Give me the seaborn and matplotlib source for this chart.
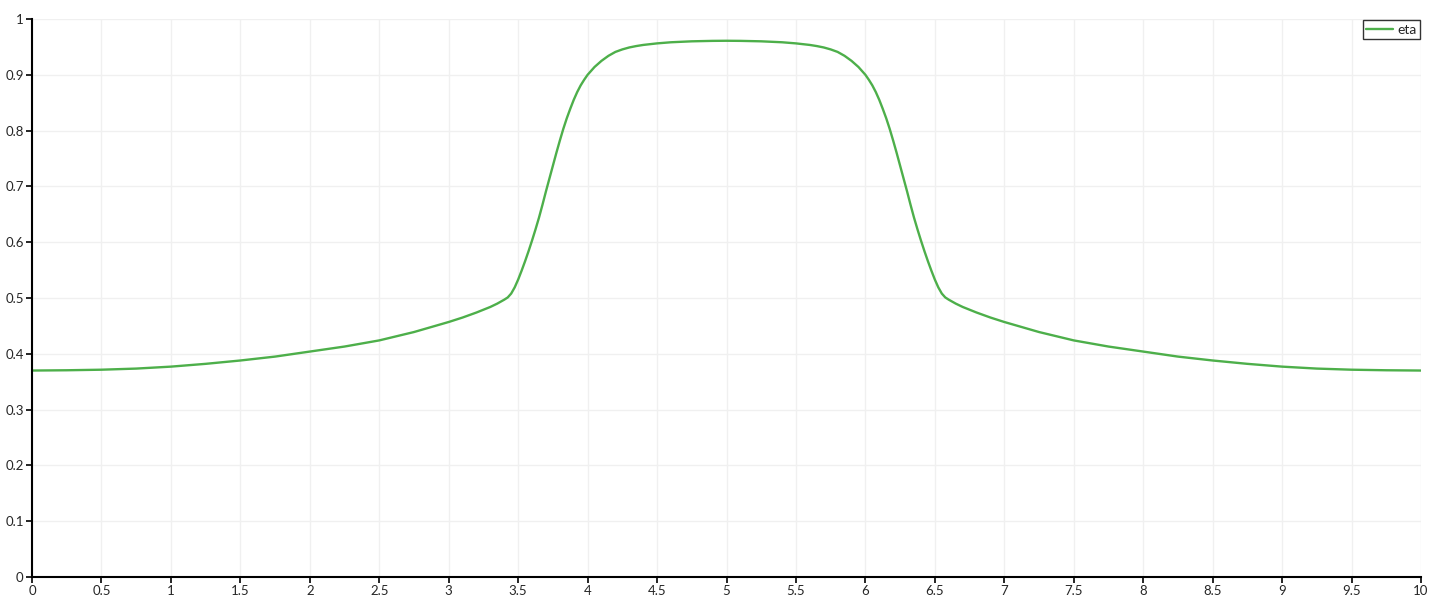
import matplotlib
matplotlib.use("Agg")
import matplotlib.pyplot as plt
import pandas as pd
import seaborn as sns

# values (left half, plateau, right half)
x_values = [
    0.0, 0.25, 0.5, 0.75, 1.0, 1.25, 1.5, 1.75, 2.0, 2.25, 2.5, 2.75,
    3.0, 3.1, 3.2, 3.3, 3.35, 3.4, 3.425, 3.45, 3.475, 3.5, 3.525, 3.55,
    3.575, 3.6, 3.625, 3.65, 3.675, 3.7, 3.725, 3.75, 3.775, 3.8, 3.825, 3.85,
    3.875, 3.9, 3.925, 3.95, 3.975, 4.0, 4.05, 4.1, 4.15, 4.2, 4.25, 4.3,
    4.35, 4.4, 4.5, 4.6, 4.75, 4.9, 5.0,
    5.1, 5.25, 5.4, 5.5, 5.6, 5.65, 5.7, 5.75, 5.8, 5.85, 5.9, 5.95, 6.0, 6.025,
    6.05, 6.075, 6.1, 6.125, 6.15, 6.175, 6.2, 6.225, 6.25, 6.275, 6.3, 6.325,
    6.35, 6.375, 6.4, 6.425, 6.45, 6.475, 6.5, 6.525, 6.55, 6.575, 6.6, 6.65,
    6.7, 6.8, 6.9, 7.0, 7.25, 7.5, 7.75, 8.0, 8.25, 8.5, 8.75, 9.0,
    9.25, 9.5, 9.75, 10.0,
]
eta_values = [
    0.370, 0.3705, 0.3715, 0.3735, 0.377, 0.382, 0.388, 0.395, 0.404, 0.413, 0.424, 0.439,
    0.457, 0.465, 0.474, 0.484, 0.490, 0.497, 0.501, 0.508, 0.519, 0.533, 0.549, 0.566,
    0.584, 0.603, 0.623, 0.644, 0.667, 0.691, 0.714, 0.737, 0.760, 0.782, 0.803, 0.822,
    0.839, 0.855, 0.869, 0.881, 0.891, 0.900, 0.914, 0.925, 0.934, 0.941, 0.9455, 0.949,
    0.9515, 0.9535, 0.9563, 0.9583, 0.960, 0.9608, 0.961,
    0.9608, 0.960, 0.9583, 0.9563, 0.9535, 0.9515, 0.949, 0.9455, 0.941, 0.934, 0.925, 0.914,
    0.900, 0.891,
    0.881, 0.869, 0.855, 0.839, 0.822, 0.803, 0.782, 0.760, 0.737, 0.714, 0.691, 0.667,
    0.644, 0.623, 0.603, 0.584, 0.566, 0.549, 0.533, 0.519, 0.508, 0.501, 0.497, 0.490,
    0.484, 0.474, 0.465, 0.457, 0.439, 0.424, 0.413, 0.404, 0.395, 0.388, 0.382, 0.377,
    0.3735, 0.3715, 0.3705, 0.370,
]
x_ticks = [0, 0.5, 1, 1.5, 2, 2.5, 3, 3.5, 4, 4.5, 5, 5.5, 6, 6.5, 7, 7.5, 8, 8.5, 9, 9.5, 10]
y_ticks = [0, 0.1, 0.2, 0.3, 0.4, 0.5, 0.6, 0.7, 0.8, 0.9, 1]

df = pd.DataFrame({"x": x_values, "eta": eta_values})

sns.set_style("white")
plt.rcParams["font.family"] = ["Lato", "DejaVu Sans"]

fig = plt.figure(figsize=(14.32, 6.03), dpi=100)
ax = fig.add_axes([32 / 1432, 26 / 603, 1389 / 1432, 558 / 603])

sns.lineplot(data=df, x="x", y="eta", ax=ax, color="#4daf4a", linewidth=1.7, label="eta")

ax.set_xlim(0, 10)
ax.set_ylim(0, 1)
ax.set_xticks(x_ticks)
ax.set_xticklabels([f"{t:g}" for t in x_ticks])
ax.set_yticks(y_ticks)
ax.set_yticklabels([f"{t:g}" for t in y_ticks])
ax.set_xlabel("")
ax.set_ylabel("")
ax.grid(True, color="#f0f0f0", linewidth=1)
ax.set_axisbelow(True)

for side in ["top", "right"]:
    ax.spines[side].set_visible(False)
for side in ["left", "bottom"]:
    ax.spines[side].set_color("black")
    ax.spines[side].set_linewidth(1.5)
ax.tick_params(axis="both", direction="out", length=4, width=1.2, color="black",
               labelsize=9.5, pad=2, left=True, bottom=True)

leg = ax.legend(loc="upper right", frameon=True, fancybox=False, fontsize=10,
                handlelength=1.9, handletextpad=0.3, borderpad=0.25,
                borderaxespad=0.1)
leg.get_frame().set_edgecolor("black")
leg.get_frame().set_linewidth(1)

fig.savefig("out.png", dpi=100)
